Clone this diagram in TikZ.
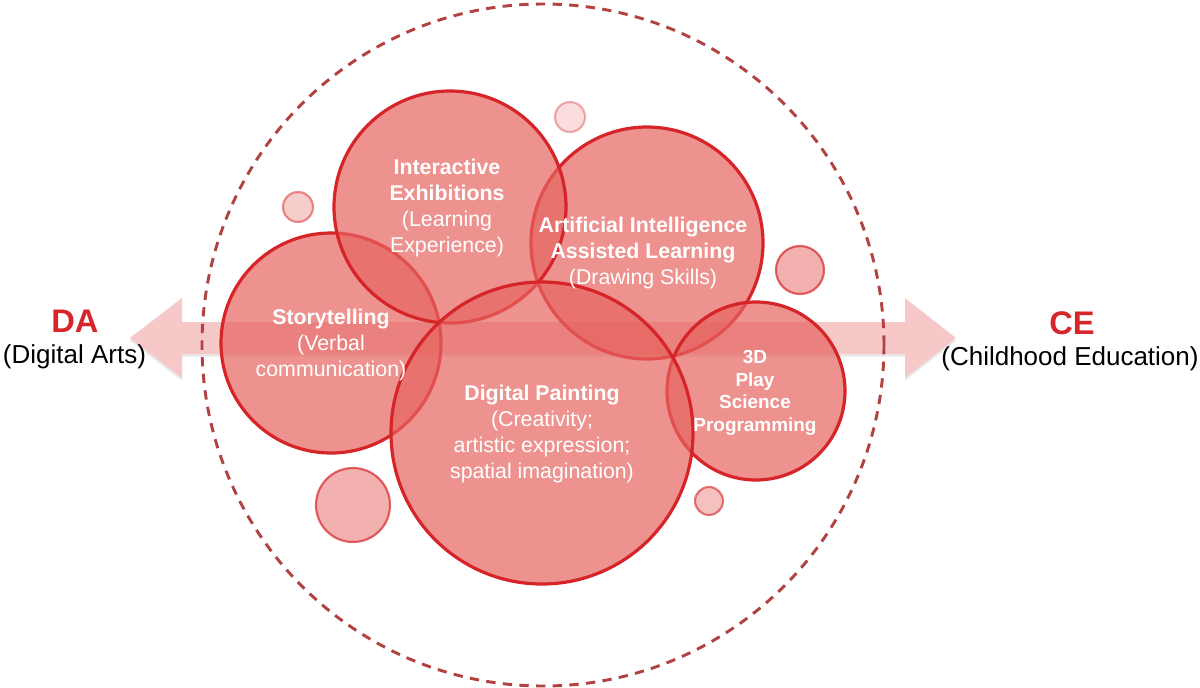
\documentclass[tikz,border=0pt]{standalone}
\usepackage{fontspec}
\setmainfont{Liberation Sans}
\usetikzlibrary{shadows}

\definecolor{edgered}{RGB}{214,36,40}
\definecolor{bubblefill}{RGB}{230,100,95}
\definecolor{arrowpink}{RGB}{246,200,200}
\definecolor{ringred}{RGB}{178,66,66}
\definecolor{titlered}{RGB}{214,38,42}

\begin{document}
\begin{tikzpicture}[x=0.75pt,y=0.75pt,yscale=-1,xscale=1,
  bubble/.style={circle, draw=edgered, line width=2.4pt, fill=bubblefill, fill opacity=0.7, inner sep=0pt},
  minidisc/.style 2 args={circle, draw=edgered, line width=1.6pt, fill=bubblefill, fill opacity=#1, draw opacity=#2, inner sep=0pt},
  intext/.style={text=white, align=center, font=\fontsize{16}{19.5}\selectfont},
  sidetitle/.style={text=titlered, font=\bfseries\fontsize{24.5}{28}\selectfont},
  sidetext/.style={text=black, font=\fontsize{19.5}{23}\selectfont}]
\useasboundingbox (0,0) rectangle (1200,687);

%Shape: Double Arrow
\fill [arrowpink, drop shadow={shadow xshift=0pt, shadow yshift=-2pt, opacity=0.18}] (130,338) -- (182,298) -- (182,322) -- (905,322) -- (905,298) -- (956,338) -- (905,378) -- (905,354) -- (182,354) -- (182,378) -- cycle ;
%Shape: Circle (dashed ring)
\draw [ringred, line width=2.2pt, dash pattern={on 7pt off 5.5pt}] (543,345) circle [radius=341] ;

%Shape: Circle
\node [bubble, minimum size=165pt] (story) at (331,343) {};
%Shape: Circle
\node [bubble, minimum size=174pt] (aiassist) at (647,243) {};
%Shape: Circle
\node [bubble, minimum size=174pt] (inter) at (450,207) {};
%Shape: Circle
\node [bubble, minimum size=133.5pt] (play3d) at (756,391) {};
%Shape: Circle
\node [bubble, minimum size=226.5pt] (paint) at (542,433) {};

%Shape: Circle (small)
\node [minidisc={0.32}{0.5}, minimum size=22.5pt] (spot1) at (298,207) {};
\node [minidisc={0.22}{0.35}, minimum size=22.5pt] (spot2) at (570,117) {};
\node [minidisc={0.5}{0.7}, minimum size=36pt] (spot3) at (800,270) {};
\node [minidisc={0.5}{0.7}, minimum size=55.5pt] (spot4) at (353,505) {};
\node [minidisc={0.4}{0.6}, minimum size=21pt] (spot5) at (709,501) {};

% Text Node
\node [intext] (storytxt) at (331,345) {\textbf{Storytelling}\\(Verbal\\communication)};
% Text Node
\node [intext] (intertxt) at (447,208) {\textbf{Interactive}\\\textbf{Exhibitions}\\(Learning\\Experience)};
% Text Node
\node [intext] (aitxt) at (643,253) {\textbf{Artificial Intelligence}\\\textbf{Assisted Learning}\\(Drawing Skills)};
% Text Node
\node [intext] (painttxt) at (542,434) {\textbf{Digital Painting}\\(Creativity;\\artistic expression;\\spatial imagination)};
% Text Node
\node [intext, font=\bfseries\fontsize{14.2}{16.9}\selectfont] (playtxt) at (755,393) {3D\\Play\\Science\\Programming};

% Text Node
\node [sidetitle] (da) at (75,321) {DA};
% Text Node
\node [sidetext] (datxt) at (74.5,357) {(Digital Arts)};
% Text Node
\node [sidetitle] (ce) at (1072,323.5) {CE};
% Text Node
\node [sidetext] (cetxt) at (1070,358.5) {(Childhood Education)};

\end{tikzpicture}
\end{document}
